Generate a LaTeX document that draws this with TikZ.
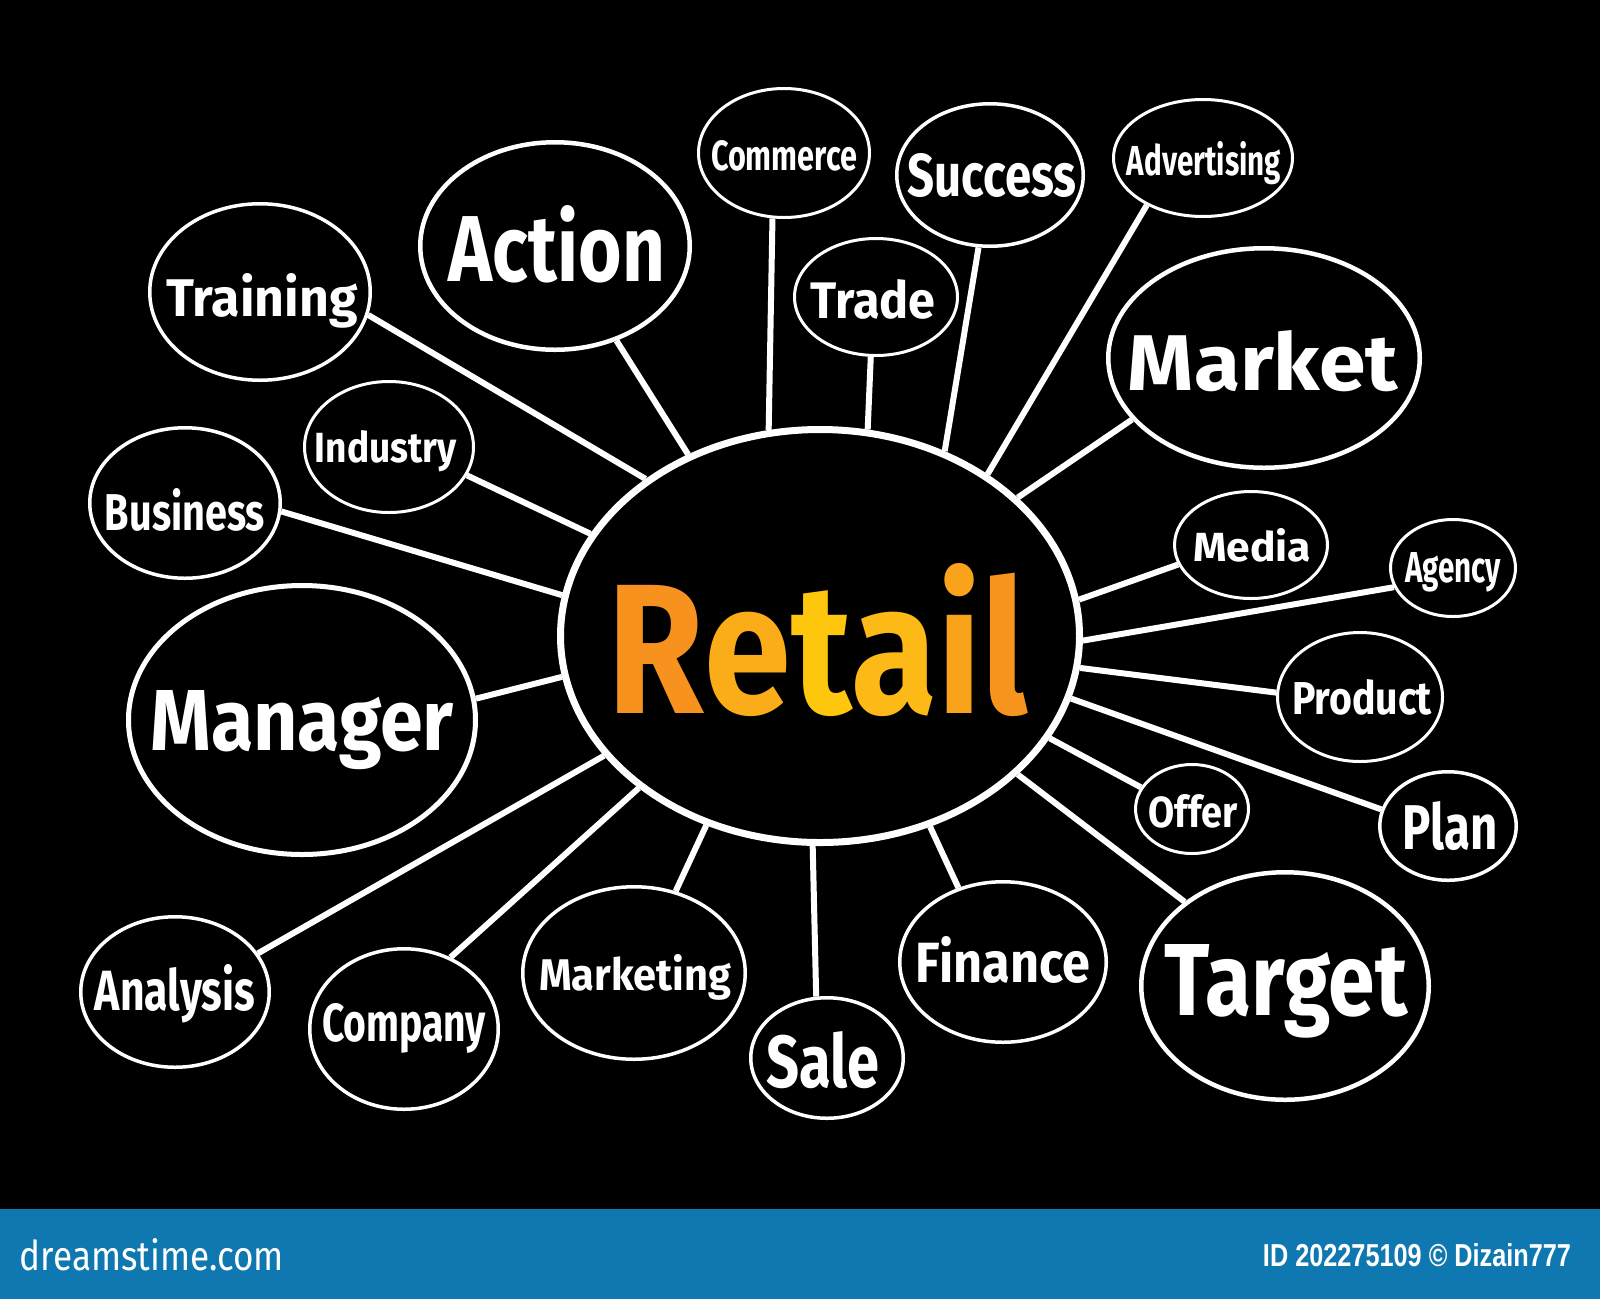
\documentclass[tikz,border=0pt]{standalone}
\usepackage{fontspec}
\setmainfont{Fira Sans}
\newfontfamily\barfont{Liberation Sans}
\usepackage{graphicx}
\usetikzlibrary{shapes.geometric}
\definecolor{barblue}{HTML}{0F78B0}
\definecolor{rA}{HTML}{F7921E}
\definecolor{rB}{HTML}{FAAC19}
\definecolor{rC}{HTML}{FFC60E}
\definecolor{rD}{HTML}{FDB915}
\definecolor{rE}{HTML}{F9A31B}
\definecolor{rF}{HTML}{F7941E}
\newcommand\lbl[3]{\resizebox{#1pt}{#2pt}{\bfseries #3}}
\begin{document}
\begin{tikzpicture}[x=1pt,y=-1pt,
  oval/.style n args={3}{ellipse, draw=white, line width=#3pt, inner sep=0pt,
     minimum width={2*#1pt-#3pt}, minimum height={2*#2pt-#3pt}},
  lab/.style={anchor=base, text=white, inner sep=0pt},
  conn/.style={draw=white, line width=6pt}]
\useasboundingbox (0,0) rectangle (1600,1299);
\fill[black] (0,0) rectangle (1600,1209);
\fill[barblue] (0,1209) rectangle (1600,1299);

% ellipses
\node[oval={263}{210}{7}] (retail) at (820,636) {};
\node[oval={112}{90}{3.5}] (training) at (260,292) {};
\node[oval={137}{106}{4.5}] (action) at (555,246) {};
\node[oval={87}{66}{3}] (commerce) at (784,153) {};
\node[oval={95}{73}{3.5}] (success) at (990,175) {};
\node[oval={91}{60}{3}] (advertising) at (1203,158) {};
\node[oval={83}{60}{3}] (trade) at (876,297) {};
\node[oval={158}{112}{4.5}] (market) at (1264,358) {};
\node[oval={86}{67}{3}] (industry) at (389,447) {};
\node[oval={97}{77}{3.5}] (business) at (185,503) {};
\node[oval={176}{137}{5}] (manager) at (302,720) {};
\node[oval={78}{55}{3}] (media) at (1251,545) {};
\node[oval={64}{50}{3}] (agency) at (1453,568) {};
\node[oval={84}{66}{3}] (product) at (1360,697) {};
\node[oval={58}{46}{3}] (offer) at (1192,809) {};
\node[oval={70}{56}{3.5}] (plan) at (1448,826) {};
\node[oval={146}{116}{4.5}] (target) at (1285,986) {};
\node[oval={105}{82}{3.5}] (finance) at (1003,962) {};
\node[oval={78}{62}{3.5}] (sale) at (827,1058) {};
\node[oval={113}{88}{3.5}] (marketing) at (634,973) {};
\node[oval={96}{82}{3.5}] (company) at (404,1029) {};
\node[oval={96}{77}{3.5}] (analysis) at (175,992) {};

% connectors
\draw[conn] (training.-12.6) -- (retail.138.3);
\draw[conn] (action.-57.1) -- (retail.126.4);
\draw[conn] (commerce.-100.3) -- (retail.104.0);
\draw[conn] (trade.-95.7) -- (retail.77.7);
\draw[conn] (success.-99.3) -- (retail.56.4);
\draw[conn] (advertising.-140.4) -- (retail.44.5);
\draw[conn] (market.-155.4) -- (retail.35.5);
\draw[conn] (media.-165.8) -- (retail.8.2);
\draw[conn] (agency.-162.7) -- (retail.-1.9);
\draw[conn] (product.177.9) -- (retail.-7.8);
\draw[conn] (plan.166.8) -- (retail.-14.0);
\draw[conn] (offer.157.8) -- (retail.-24.1);
\draw[conn] (target.140.6) -- (retail.-35.7);
\draw[conn] (finance.121.8) -- (retail.-60.5);
\draw[conn] (sale.100.2) -- (retail.-92.4);
\draw[conn] (marketing.63.7) -- (retail.-121.7);
\draw[conn] (company.57.9) -- (retail.-140.8);
\draw[conn] (analysis.25.5) -- (retail.-151.8);
\draw[conn] (manager.7.4) -- (retail.-171.6);
\draw[conn] (business.-5.5) -- (retail.171.7);
\draw[conn] (industry.-20.2) -- (retail.156.1);

% labels
\node[lab] (tretail) at (818,713) {\lbl{420}{150}{\textcolor{rA}{R}\textcolor{rB}{e}\textcolor{rC}{t}\textcolor{rD}{a}\textcolor{rE}{i}\textcolor{rF}{l}}};
\node[lab] (ttraining) at (262,316) {\lbl{191}{43}{Training}};
\node[lab] (taction) at (557,281) {\lbl{216}{76}{Action}};
\node[lab] (tcommerce) at (784,170) {\lbl{146}{30}{Commerce}};
\node[lab] (tsuccess) at (992,196) {\lbl{169}{43}{Success}};
\node[lab] (tadvertising) at (1204,175) {\lbl{154}{34}{Advertising}};
\node[lab] (ttrade) at (873,318) {\lbl{125}{39}{Trade}};
\node[lab] (tmarket) at (1263,390) {\lbl{270}{60}{Market}};
\node[lab] (tindustry) at (386,462) {\lbl{142}{32}{Industry}};
\node[lab] (tbusiness) at (185,530) {\lbl{160}{42}{Business}};
\node[lab] (tmanager) at (302,750) {\lbl{303}{60}{Manager}};
\node[lab] (tmedia) at (1252,561) {\lbl{118}{33}{Media}};
\node[lab] (tagency) at (1453,582) {\lbl{96}{30}{Agency}};
\node[lab] (tproduct) at (1362,714) {\lbl{140}{35}{Product}};
\node[lab] (toffer) at (1193,827) {\lbl{89}{33}{Offer}};
\node[lab] (tplan) at (1450,849) {\lbl{95}{48}{Plan}};
\node[lab] (ttarget) at (1286,1015) {\lbl{243}{71}{Target}};
\node[lab] (tfinance) at (1003,982) {\lbl{174}{46}{Finance}};
\node[lab] (tsale) at (823,1087) {\lbl{113}{56}{Sale}};
\node[lab] (tmarketing) at (635,990) {\lbl{192}{36}{Marketing}};
\node[lab] (tcompany) at (404,1041) {\lbl{164}{38}{Company}};
\node[lab] (tanalysis) at (175,1010) {\lbl{160}{46}{Analysis}};

% bottom bar texts
\node[lab] (brand) at (152,1270) {\resizebox{264pt}{32pt}{dreamstime.com}};
\node[lab] (credit) at (1417,1266) {\resizebox{308pt}{23pt}{\barfont\bfseries ID 202275109 © Dizain777}};
\end{tikzpicture}
\end{document}
